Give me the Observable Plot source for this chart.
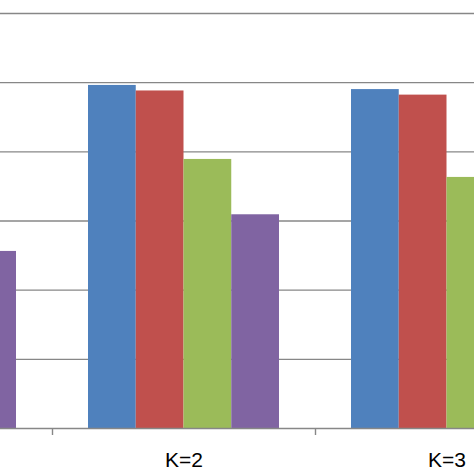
<!DOCTYPE html>
<html>
<head>
<meta charset="utf-8">
<script src="https://cdn.jsdelivr.net/npm/d3@7"></script>
<script src="https://cdn.jsdelivr.net/npm/@observablehq/plot@0.6"></script>
<style>
  html, body { margin: 0; padding: 0; background: #fff; overflow: hidden; }
</style>
</head>
<body>
<div id="chart"></div>
<script>
// Categories (K values) and four series; K=1 mostly cropped out of the view
const categories = ["K=1", "K=2", "K=3"];
const visibleLabels = ["K=2", "K=3"];
const seriesNames = ["Series 1", "Series 2", "Series 3", "Series 4"];
const series1 = [5.0, 4.96, 4.90];
const series2 = [4.9, 4.88, 4.82];
const series3 = [3.7, 3.89, 3.63];
const series4 = [2.56, 3.09, 2.9];
const gridValues = [1, 2, 3, 4, 5, 6];
const colors = ["#4F81BD", "#C0504D", "#9BBB59", "#8064A2"];

const allSeries = [series1, series2, series3, series4];
const table = [];
allSeries.forEach((vals, si) => {
  categories.forEach((k, ci) => table.push({k, series: seriesNames[si], si, value: vals[ci]}));
});

// layout of the visible window
const W = 474, H = 474;
const band = 263;            // width of one category band
const firstTick = 52.3;      // left edge of K=2 band
const outerGap = 36;         // gap at each side of a group
const barW = (band - 2 * outerGap) / 4;

const barMarks = seriesNames.map((name, i) =>
  Plot.barY(table.filter(d => d.si === i), {
    x: "k",
    y: "value",
    fill: colors[i],
    insetLeft: outerGap + i * barW,
    insetRight: band - outerGap - (i + 1) * barW
  })
);

const chart = Plot.plot({
  width: W,
  height: H,
  marginTop: 13,
  marginBottom: 46,
  marginLeft: 0,
  marginRight: 0,
  style: {
    overflow: "hidden",
    fontFamily: "'Liberation Sans', Arial, sans-serif",
    fontSize: "21px",
    background: "#fff"
  },
  x: {
    type: "band",
    domain: categories,
    range: [firstTick - band, firstTick + 2 * band],
    padding: 0,
    axis: null
  },
  y: {domain: [0, 6], axis: null},
  marks: [
    Plot.ruleY(gridValues, {stroke: "#878787", strokeWidth: 1.4}),
    ...barMarks,
    Plot.ruleY([0], {stroke: "#878787", strokeWidth: 1.4}),
    Plot.ruleX(categories, {x: d => d, dx: -band / 2, y1: 0, y2: 0, insetBottom: -7, stroke: "#878787", strokeWidth: 1.4}),
    Plot.text(visibleLabels, {x: d => d, y: 0, dy: 32, text: d => d, fill: "#000", fontSize: 21})
  ]
});

document.getElementById("chart").appendChild(chart);
</script>
</body>
</html>
